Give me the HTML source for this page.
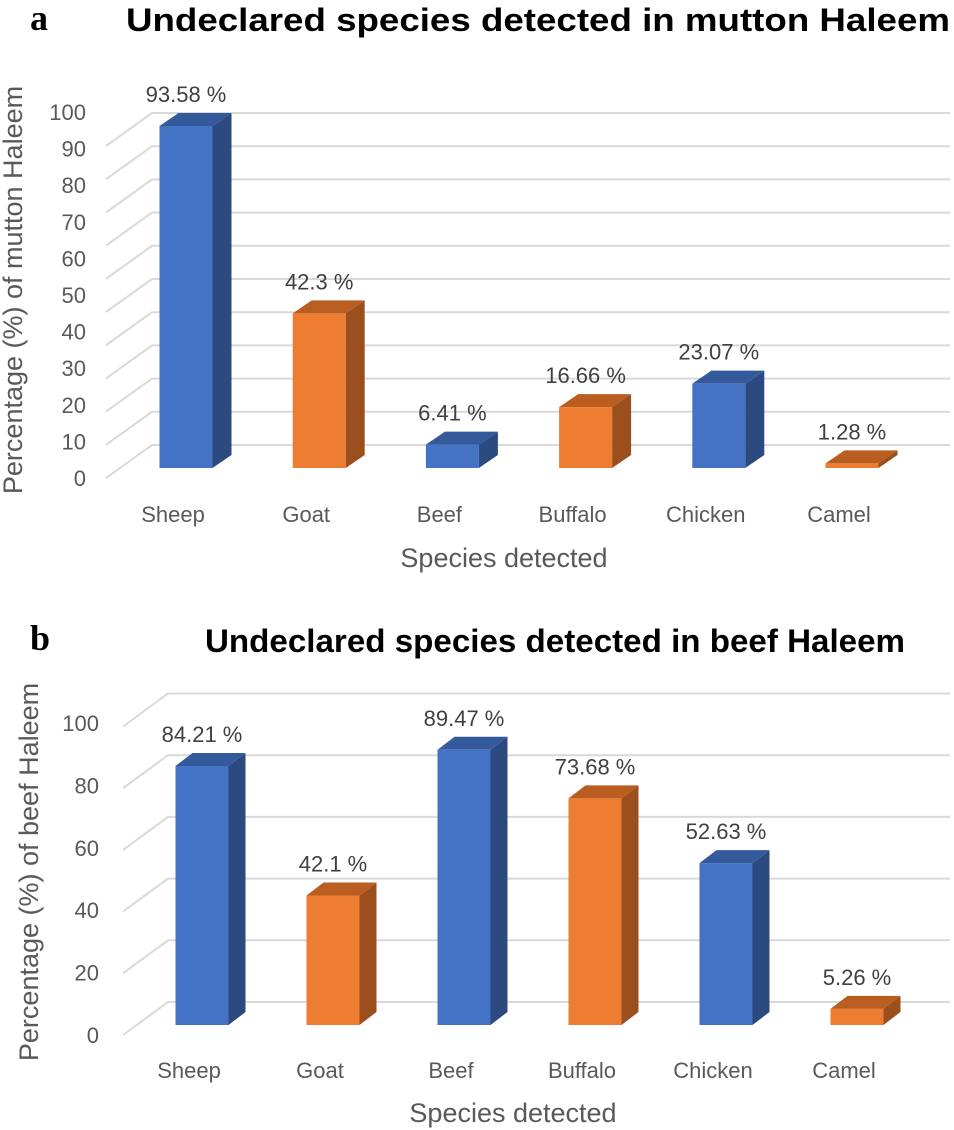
<!DOCTYPE html>
<html><head><meta charset="utf-8"><style>
body{margin:0;background:#fff;width:954px;height:1130px;overflow:hidden}
svg{display:block}
text{font-family:"Liberation Sans",sans-serif}
text.serif{font-family:"Liberation Serif",serif}
</style></head><body>
<svg id="s" width="954" height="1130">
<text class="serif" x="30" y="30" font-weight="bold" font-size="36" fill="#000">a</text>
<text x="126" y="31" textLength="824" lengthAdjust="spacingAndGlyphs" font-weight="bold" font-size="32" fill="#000">Undeclared species detected in mutton Haleem</text>
<text class="serif" x="30" y="650" font-weight="bold" font-size="36" fill="#000">b</text>
<text x="205" y="652" textLength="700" lengthAdjust="spacingAndGlyphs" font-weight="bold" font-size="32" fill="#000">Undeclared species detected in beef Haleem</text>
</svg>
<script>
const categories=["Sheep","Goat","Beef","Buffalo","Chicken","Camel"];
const valuesA=[93.58,42.3,6.41,16.66,23.07,1.28];
const labelsA=["93.58 %","42.3 %","6.41 %","16.66 %","23.07 %","1.28 %"];
const ticksA=[0,10,20,30,40,50,60,70,80,90,100];
const valuesB=[84.21,42.1,89.47,73.68,52.63,5.26];
const labelsB=["84.21 %","42.1 %","89.47 %","73.68 %","52.63 %","5.26 %"];
const ticksB=[0,20,40,60,80,100];
const NS="http://www.w3.org/2000/svg";
const svg=document.getElementById('s');
function mk(tag,attrs,parent){const e=document.createElementNS(NS,tag);for(const k in attrs)e.setAttribute(k,attrs[k]);(parent||svg).appendChild(e);return e;}
function chart(p,vals,labs,ticks,id){
  const g=mk('g',{});
  
  
  const yBack=v=>p.back0-v*p.sb;
  const yFront=v=>p.front0-v*p.sf;
  ticks.forEach(t=>{
    const l=mk('polyline',{points:`${p.wallX},${yBack(t)+p.dy*-1} ${p.wallX+p.dx},${yBack(t)} 950,${yBack(t)}`,fill:'none',stroke:'#d9d9d9','stroke-width':2},g);
    
    
    const tx=mk('text',{x:p.tickX,y:p.labY0-t*p.sl+8,'text-anchor':'end','font-size':22,fill:'#595959'},g);
    tx.textContent=t;
    
    
  });
  vals.forEach((v,i)=>{
    const cx=p.c0+i*p.step, x0=cx-p.bw/2, x1=cx+p.bw/2, yb=p.front0, yt=yFront(v);
    const blue=i%2==0;
    const cF=blue?'#4472c4':'#ed7d31', cS=blue?'#2c4a80':'#9a4f1d', cT=blue?'#345a9c':'#b95d20';
    const bg=mk('g',{},g);
    
    
    mk('polygon',{points:`${x1},${yb} ${x1+p.bd},${yb-p.bdy} ${x1+p.bd},${yt-p.bdy} ${x1},${yt}`,fill:cS},bg);
    mk('polygon',{points:`${x0},${yt} ${x0+p.bd},${yt-p.bdy} ${x1+p.bd},${yt-p.bdy} ${x1},${yt}`,fill:cT},bg);
    mk('rect',{x:x0,y:yt,width:p.bw,height:yb-yt,fill:cF},bg);
    const vl=mk('text',{x:cx,y:yt-p.bdy-11,'text-anchor':'middle','font-size':22,fill:'#404040'},g);
    vl.textContent=labs[i];
    
    
    const cl=mk('text',{x:cx-13,y:p.catY,'text-anchor':'middle','font-size':22,fill:'#595959'},g);
    cl.textContent=categories[i];
    
    
  });
  const xt=mk('text',{x:p.xtX,y:p.xtY,'text-anchor':'middle','font-size':27,fill:'#595959'},g);
  xt.textContent='Species detected';
  
  
  const yt=mk('text',{x:0,y:0,'text-anchor':'middle','font-size':27,fill:'#595959',transform:`translate(${p.ytX},${p.ytY}) rotate(-90)`},g);
  yt.textContent=p.ytitle;
  
  
}
chart({wallX:106,dx:46,dy:-33,back0:445,sb:3.32,front0:468,sf:3.655,labY0:478,sl:3.66,tickX:86,
  c0:186,step:133.2,bw:53,bd:19,bdy:13,catY:522,xtX:504,xtY:567,ytX:22,ytY:290,
  ytitle:'Percentage (%) of mutton Haleem'},valuesA,labelsA,ticksA,'chart-a');
chart({wallX:123,dx:45,dy:-33,back0:1002,sb:3.085,front0:1025,sf:3.076,labY0:1035,sl:3.12,tickX:99,
  c0:202,step:131,bw:53,bd:17,bdy:13,catY:1078,xtX:513,xtY:1122,ytX:38,ytY:872,
  ytitle:'Percentage (%) of beef Haleem'},valuesB,labelsB,ticksB,'chart-b');
</script>
</body></html>
